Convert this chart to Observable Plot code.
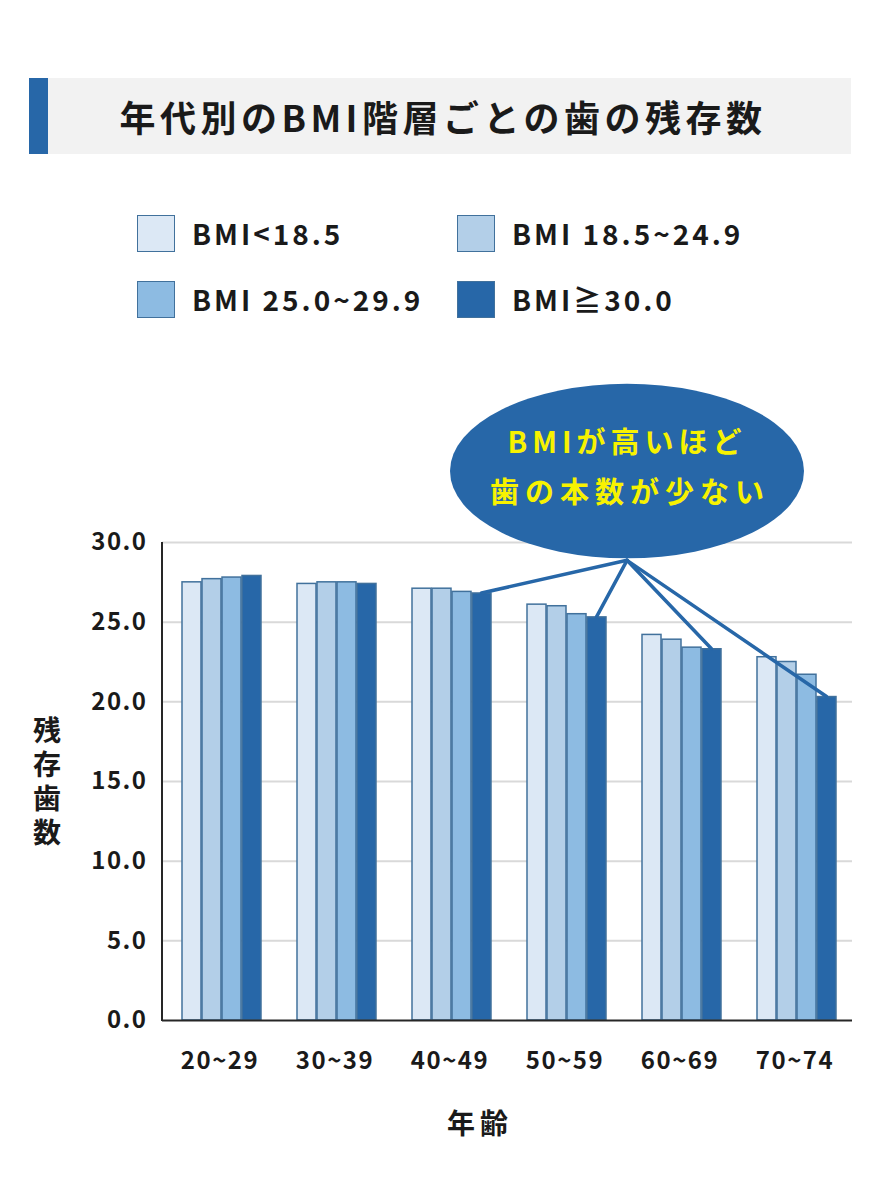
<!DOCTYPE html>
<html>
<head>
<meta charset="utf-8">
<script src="https://cdn.jsdelivr.net/npm/d3@7"></script>
<script src="https://cdn.jsdelivr.net/npm/@observablehq/plot@0.6"></script>
<style>
  body { margin: 0; background: #fff; }
  #page { position: relative; width: 881px; height: 1200px; overflow: hidden; background: #fff;
          font-family: "Noto Sans CJK JP", "Noto Sans", sans-serif; font-weight: 700; color: #1a1a1a; }
  .abs { position: absolute; }
  #titlebg { left: 29px; top: 78px; width: 822px; height: 76px; background: #f2f2f2; }
  #titleacc { left: 29px; top: 78px; width: 19px; height: 76px; background: #2767a8; }
  #title { left: 0; top: 78px; width: 886px; height: 76px; line-height: 76px; text-align: center;
           font-size: 36px; letter-spacing: 4.5px; }
  .sw { width: 36px; height: 35px; border: 1.5px solid #41719c; }
  .lt { font-size: 28px; letter-spacing: 3px; line-height: 40px; white-space: nowrap; }
  #ytitle { left: 30px; top: 716px; width: 34px; height: 140px; font-size: 28px; letter-spacing: 6px;
            writing-mode: vertical-rl; text-orientation: upright; line-height: 34px; }
  #xtitle { left: 380px; top: 1102px; width: 200px; font-size: 28px; letter-spacing: 5px; text-align: center; line-height: 40px; }
  #chart { left: 0; top: 360px; }
</style>
</head>
<body>
<div id="page">
  <div class="abs" id="titlebg"></div>
  <div class="abs" id="titleacc"></div>
  <div class="abs" id="title">年代別のBMI階層ごとの歯の残存数</div>
  <div id="legend"></div>
  <div class="abs" id="ytitle">残存歯数</div>
  <div class="abs" id="xtitle">年齢</div>
  <div class="abs" id="chart"></div>
</div>
<script>
// ---- data ----
const ageGroups = ["20~29", "30~39", "40~49", "50~59", "60~69", "70~74"];
const bmiClasses = ["BMI<18.5", "BMI 18.5~24.9", "BMI 25.0~29.9", "BMI≧30.0"];
const bmiColors = ["#dce8f5", "#b3cfe8", "#8dbbe2", "#2767a8"];
const teethUnder185 = [27.5, 27.4, 27.1, 26.1, 24.2, 22.8];
const teeth185to249 = [27.7, 27.5, 27.1, 26.0, 23.9, 22.5];
const teeth250to299 = [27.8, 27.5, 26.9, 25.5, 23.4, 21.7];
const teeth300plus  = [27.9, 27.4, 26.8, 25.3, 23.3, 20.3];
const yTicks = [0, 5, 10, 15, 20, 25, 30];
const calloutLines = ["BMIが高いほど", "歯の本数が少ない"];
const calloutTargets = ["40~49", "50~59", "60~69", "70~74"];

const seriesValues = [teethUnder185, teeth185to249, teeth250to299, teeth300plus];
const table = [];
ageGroups.forEach((age, i) => {
  bmiClasses.forEach((bmi, j) => table.push({age, bmi, teeth: seriesValues[j][i]}));
});

// ---- legend (HTML) ----
const legendPos = [[137, 215], [457, 215], [137, 281], [457, 281]];
const legend = document.getElementById("legend");
bmiClasses.forEach((b, i) => {
  const [lx, ly] = legendPos[i];
  const sw = document.createElement("div");
  sw.className = "abs sw";
  sw.style.left = lx + "px"; sw.style.top = ly + "px";
  sw.style.background = bmiColors[i];
  legend.appendChild(sw);
  const t = document.createElement("div");
  t.className = "abs lt";
  t.style.left = (lx + 55) + "px"; t.style.top = (ly - 2) + "px";
  t.textContent = b;
  legend.appendChild(t);
});

// ---- chart ----
const plot = Plot.plot({
  width: 881,
  height: 840,
  marginTop: 182,
  marginBottom: 180,
  marginLeft: 161,
  marginRight: 28,
  style: {fontFamily: '"Noto Sans CJK JP", sans-serif', fontSize: "24px", fontWeight: "700",
          color: "#1a1a1a", background: "transparent", overflow: "visible"},
  fx: {domain: ageGroups, padding: 0, label: null, axis: "bottom", tickSize: 0, tickPadding: 31},
  x: {domain: bmiClasses, axis: null, paddingInner: 0.07, paddingOuter: 0.85, align: 0.56},
  y: {domain: [0, 30], ticks: yTicks, tickFormat: d3.format(".1f"), label: null, tickSize: 0, tickPadding: 15},
  color: {domain: bmiClasses, range: bmiColors},
  marks: [
    Plot.ruleY(yTicks.filter(d => d > 0), {stroke: "#d9d9d9", strokeWidth: 2}),
    Plot.barY(table, {fx: "age", x: "bmi", y: "teeth", fill: "bmi", stroke: "#41719c", strokeWidth: 1.5}),
    Plot.ruleY([0], {stroke: "#262626", strokeWidth: 2})
  ]
});
document.getElementById("chart").appendChild(plot);
d3.select(plot).selectAll("text").attr("letter-spacing", "1.5px");

// ---- overlay: left axis line and callout, positioned through Plot's scales ----
const fxS = plot.scale("fx"), xS = plot.scale("x"), yS = plot.scale("y");
const xOff = Math.min(...xS.range);
const barCenter = (age, bmi) => fxS.apply(age) + xS.apply(bmi) - xOff + xS.bandwidth / 2;
const svg = d3.select(plot);
const x0 = fxS.apply(ageGroups[0]);
svg.append("line")
  .attr("x1", x0).attr("x2", x0)
  .attr("y1", yS.apply(0) + 1).attr("y2", yS.apply(30))
  .attr("stroke", "#262626").attr("stroke-width", 2);

const tipX = fxS.apply("60~69") + 5;
const tipY = yS.apply(28.85);
const g = svg.append("g");
calloutTargets.forEach(age => {
  const last = bmiClasses[bmiClasses.length - 1];
  const v = table.find(d => d.age === age && d.bmi === last).teeth;
  g.append("line")
    .attr("x1", tipX).attr("y1", tipY)
    .attr("x2", barCenter(age, last)).attr("y2", yS.apply(v))
    .attr("stroke", "#2767a8").attr("stroke-width", 3.5).attr("stroke-linecap", "round");
});
const cy = yS.apply(34.45);
g.append("ellipse")
  .attr("cx", tipX).attr("cy", cy)
  .attr("rx", 177).attr("ry", tipY - cy - 2)
  .attr("fill", "#2767a8");
calloutLines.forEach((line, i) => {
  g.append("text")
    .attr("x", tipX + (i === 0 ? 0 : 3)).attr("y", cy - 31 + i * 50)
    .attr("text-anchor", "middle").attr("dominant-baseline", "central")
    .attr("fill", "#f7f200")
    .attr("font-size", 29).attr("font-weight", 700)
    .attr("letter-spacing", i === 0 ? 5 : 6)
    .attr("font-family", '"Noto Sans CJK JP", sans-serif')
    .text(line);
});
</script>
</body>
</html>
